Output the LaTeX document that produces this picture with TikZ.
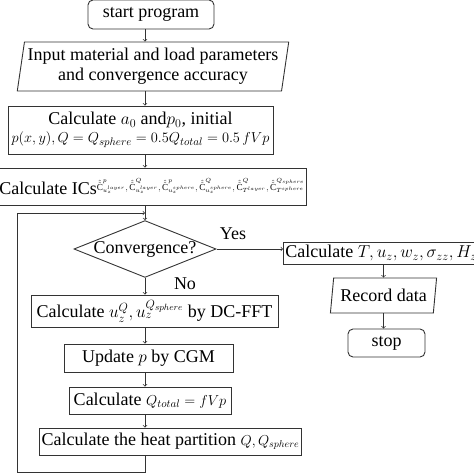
\documentclass[tikz,border=0pt]{standalone}
\usepackage{fontspec}
\setmainfont{Liberation Serif}
\usetikzlibrary{shapes.geometric}

\newcommand{\hc}[3]{\hat{\hat{\mathrm{C}}}^{#1}_{#2^{#3}}}

\begin{document}
\begin{tikzpicture}[x=1pt,y=-1pt,
    every node/.style={font=\fontsize{18}{20}\selectfont, text=black},
    proc/.style={draw=black!80, line width=0.9pt, inner sep=2pt},
    term/.style={proc, rounded corners=5pt},
    io/.style={proc, trapezium, trapezium stretches=true,
        trapezium left angle=80, trapezium right angle=100},
    cond/.style={proc, diamond, aspect=2.5, inner sep=0pt},
    arr/.style={->, line width=0.7pt, black!80}]
\useasboundingbox (0,0) rectangle (474,474);

% main column
\coordinate (axis) at (145,0);
\node[term, minimum width=126, minimum height=29] (start) at (151,14.5) {start program};
\node[io, minimum width=272, minimum height=49, align=center] (input) at (153,66.5)
    {Input material and load parameters\\and convergence accuracy};
\node[proc, minimum width=265, minimum height=48, align=center] (init) at (140.5,130)
    {Calculate $a_0$ and$p_0$, initial\\[-2pt]
     {\fontsize{15}{17}\selectfont $p(x,y),Q=Q_{sphere}=0.5Q_{total}=0.5\,fVp$}};
\node[proc, anchor=east, minimum height=37, inner xsep=2pt] (ics) at (307,186.5)
    {Calculate ICs\raisebox{4pt}{\fontsize{9.2}{10}\selectfont
     $\hc{p}{u_z}{layer},\hc{Q}{u_z}{layer},\hc{p}{u_z}{sphere},
      \hc{Q}{u_z}{sphere},\hc{Q}{T}{layer},\hc{Q_{sphere}}{T}{sphere}$}};
\node[cond] (conv) at (145,249) {Convergence?};

% loop body
\node[proc, minimum width=247, minimum height=32] (fft) at (154.5,311)
    {Calculate $u_z^{Q},u_z^{Q_{sphere}}$ by DC-FFT};
\node[proc, minimum width=169, minimum height=28] (upd) at (148.5,358)
    {Update $p$ by CGM};
\node[proc, minimum width=162, minimum height=27] (qtot) at (150,400.5)
    {Calculate {\fontsize{15}{17}\selectfont $Q_{total}=fVp$}};
\node[proc, minimum width=257, minimum height=27] (heat) at (170.5,441.5)
    {Calculate the heat partition {\fontsize{14}{16}\selectfont $Q,Q_{sphere}$}};

% right column
\node[proc, anchor=west, minimum height=22, inner ysep=1pt] (post) at (283,253)
    {Calculate $T,u_z,w_z,\sigma_{zz},H_{zz}$};
\node[io, minimum width=107, minimum height=35] (rec) at (383.5,295.5) {Record data};
\node[term, minimum width=77, minimum height=28] (stop) at (386.5,343) {stop};

% labels
\node (yes) at (233,234) {Yes};
\node (no) at (185,284) {No};

% connectors
\draw[arr] (start.south -| axis) -- (input.north -| axis);
\draw[arr] (input.south -| axis) -- (init.north -| axis);
\draw[arr] (init.south -| axis) -- (ics.north -| axis);
\draw[arr] (ics.south -| axis) -- (conv.north);
\draw[arr] (conv.south) -- (fft.north -| axis);
\draw[arr] (fft.south -| axis) -- (upd.north -| axis);
\draw[arr] (upd.south -| axis) -- (qtot.north -| axis);
\draw[arr] (qtot.south -| axis) -- (heat.north -| axis);
\draw[arr] (conv.east) -- (conv.east -| post.west);
\draw[arr] (post.south -| rec.north) -- (rec.north);
\draw[arr] (rec.south) -- (rec.south |- stop.north);

% feedback loop
\coordinate (corner) at (17,472);
\coordinate (merge) at (145,213);
\draw[arr] (heat.south -| axis) |- (corner) |- (merge);
\end{tikzpicture}
\end{document}
